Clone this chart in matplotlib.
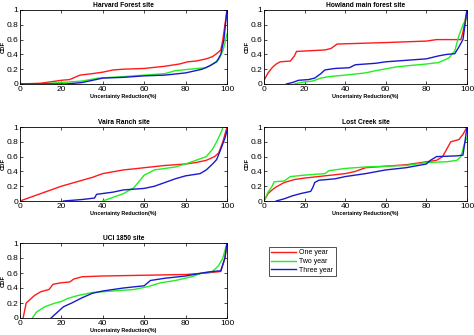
import matplotlib
matplotlib.use("Agg")
import matplotlib.pyplot as plt
from matplotlib.ticker import FuncFormatter

plt.rcParams['font.family'] = ['Liberation Sans', 'DejaVu Sans']

W, H = 474, 335

titles = ["Harvard Forest site", "Howland main forest site", "Vaira Ranch site",
          "Lost Creek site", "UCI 1850 site"]
series_names = ["One year", "Two year", "Three year"]
colors = ["#ff1a1a", "#22ee22", "#1a1acc"]

# Harvard
hv_red_x = [0, 10, 20, 24, 29, 35, 40, 45, 50, 60, 70, 77, 81, 85, 90, 93, 95, 97, 98, 99, 100]
hv_red_y = [0, 0.01, 0.05, 0.06, 0.12, 0.14, 0.16, 0.19, 0.2, 0.21, 0.24, 0.27, 0.3, 0.31, 0.34, 0.37, 0.41, 0.46, 0.6, 0.8, 1.0]
hv_grn_x = [0, 10, 20, 30, 38, 50, 60, 70, 75, 82, 90, 93, 96, 98, 99, 100]
hv_grn_y = [0, 0.0, 0.02, 0.04, 0.08, 0.10, 0.12, 0.14, 0.18, 0.2, 0.22, 0.27, 0.33, 0.45, 0.55, 0.68]
hv_blu_x = [0, 22, 30, 35, 40, 50, 60, 70, 80, 88, 92, 95, 97, 98.5, 100]
hv_blu_y = [0, 0, 0.02, 0.05, 0.08, 0.09, 0.11, 0.12, 0.15, 0.2, 0.25, 0.3, 0.4, 0.6, 1.0]

# Howland
hw_red_x = [0, 2, 4, 6, 8, 13, 15, 16, 30, 33, 36, 60, 80, 85, 97, 98, 100]
hw_red_y = [0.05, 0.15, 0.22, 0.27, 0.30, 0.31, 0.38, 0.44, 0.46, 0.48, 0.54, 0.56, 0.58, 0.60, 0.60, 0.7, 1.0]
hw_grn_x = [15, 18, 24, 28, 32, 40, 50, 55, 65, 72, 80, 86, 91, 94, 96, 98, 100]
hw_grn_y = [0, 0.02, 0.04, 0.08, 0.10, 0.12, 0.15, 0.18, 0.23, 0.25, 0.27, 0.29, 0.35, 0.45, 0.65, 0.8, 0.9]
hw_blu_x = [11, 14, 17, 22, 25, 28, 30, 35, 42, 45, 55, 60, 70, 80, 86, 90, 94, 96, 98, 100]
hw_blu_y = [0, 0.02, 0.05, 0.06, 0.08, 0.14, 0.19, 0.21, 0.22, 0.26, 0.28, 0.30, 0.32, 0.34, 0.38, 0.40, 0.41, 0.5, 0.6, 1.0]

# Vaira
vr_red_x = [0, 5, 10, 15, 20, 25, 30, 35, 40, 50, 57, 60, 70, 80, 85, 90, 94, 96, 98, 100]
vr_red_y = [0, 0.05, 0.1, 0.15, 0.2, 0.24, 0.28, 0.32, 0.37, 0.42, 0.44, 0.45, 0.48, 0.5, 0.52, 0.55, 0.6, 0.65, 0.8, 1.0]
vr_grn_x = [40, 45, 50, 55, 58, 60, 65, 75, 80, 85, 90, 93, 95, 97.5, 98]
vr_grn_y = [0, 0.05, 0.1, 0.18, 0.28, 0.35, 0.42, 0.46, 0.5, 0.55, 0.6, 0.7, 0.8, 0.95, 1.0]
vr_blu_x = [21, 30, 36, 37, 45, 50, 60, 65, 70, 75, 80, 87, 90, 93, 95, 97, 99, 100]
vr_blu_y = [0, 0.02, 0.04, 0.09, 0.12, 0.15, 0.17, 0.2, 0.25, 0.3, 0.34, 0.37, 0.42, 0.5, 0.56, 0.7, 0.85, 0.95]

# Lost Creek
lc_red_x = [0, 2, 4, 6, 10, 15, 20, 30, 40, 45, 50, 60, 70, 80, 85, 88, 90, 92, 96, 98, 100]
lc_red_y = [0, 0.1, 0.15, 0.19, 0.25, 0.29, 0.31, 0.34, 0.37, 0.4, 0.45, 0.47, 0.49, 0.53, 0.55, 0.6, 0.7, 0.8, 0.83, 0.9, 1.0]
lc_grn_x = [0, 2, 4, 5, 10, 13, 20, 30, 32, 40, 50, 60, 70, 75, 80, 90, 95, 97, 99, 100]
lc_grn_y = [0, 0.12, 0.2, 0.26, 0.27, 0.33, 0.35, 0.37, 0.41, 0.44, 0.46, 0.47, 0.48, 0.5, 0.52, 0.53, 0.55, 0.6, 0.8, 0.85]
lc_blu_x = [6, 10, 14, 18, 23, 24, 25, 27, 35, 40, 50, 60, 70, 80, 82, 85, 95, 98, 99, 100]
lc_blu_y = [0, 0.03, 0.07, 0.1, 0.13, 0.18, 0.25, 0.28, 0.3, 0.33, 0.37, 0.42, 0.45, 0.5, 0.55, 0.6, 0.61, 0.62, 0.8, 1.0]

# UCI 1850
uc_red_x = [1.5, 3, 5, 7, 10, 14, 16, 20, 24, 26, 30, 40, 60, 80, 90, 97, 99, 100]
uc_red_y = [0, 0.2, 0.25, 0.3, 0.35, 0.38, 0.45, 0.47, 0.48, 0.52, 0.55, 0.56, 0.57, 0.58, 0.6, 0.62, 0.8, 1.0]
uc_grn_x = [6, 8, 12, 17, 20, 23, 28, 35, 45, 55, 62, 68, 75, 83, 88, 93, 96, 98, 100]
uc_grn_y = [0, 0.08, 0.15, 0.2, 0.22, 0.26, 0.3, 0.34, 0.36, 0.38, 0.42, 0.47, 0.5, 0.55, 0.6, 0.62, 0.7, 0.8, 1.0]
uc_blu_x = [15, 17, 19, 21, 25, 30, 35, 40, 50, 60, 63, 70, 80, 88, 93, 97, 99, 100]
uc_blu_y = [0, 0.05, 0.1, 0.15, 0.2, 0.27, 0.33, 0.36, 0.4, 0.43, 0.5, 0.53, 0.56, 0.6, 0.62, 0.63, 0.8, 1.0]

panels = [
    [(hv_red_x, hv_red_y), (hv_grn_x, hv_grn_y), (hv_blu_x, hv_blu_y)],
    [(hw_red_x, hw_red_y), (hw_grn_x, hw_grn_y), (hw_blu_x, hw_blu_y)],
    [(vr_red_x, vr_red_y), (vr_grn_x, vr_grn_y), (vr_blu_x, vr_blu_y)],
    [(lc_red_x, lc_red_y), (lc_grn_x, lc_grn_y), (lc_blu_x, lc_blu_y)],
    [(uc_red_x, uc_red_y), (uc_grn_x, uc_grn_y), (uc_blu_x, uc_blu_y)],
]

# axes boxes in pixels: left, top, right, bottom
boxes = [(20, 10, 227, 84), (264, 10, 467, 84),
         (20, 127, 227, 201), (264, 127, 467, 201),
         (20, 243, 227, 318)]

fig = plt.figure(figsize=(W / 100, H / 100), dpi=100)

yfmt = FuncFormatter(lambda v, p: "0" if abs(v) < 1e-9 else ("1" if abs(v - 1) < 1e-9 else f"{v:.1f}"))

lines = None
for title, data, (l, t, r, b) in zip(titles, panels, boxes):
    ax = fig.add_axes([l / W, 1 - b / H, (r - l) / W, (b - t) / H])
    lines = []
    for (x, y), c, n in zip(data, colors, series_names):
        ln, = ax.plot(x, y, color=c, lw=1.0, label=n)
        lines.append(ln)
    ax.set_xlim(0, 100)
    ax.set_ylim(0, 1)
    ax.set_xticks([0, 20, 40, 60, 80, 100])
    ax.set_yticks([0, 0.2, 0.4, 0.6, 0.8, 1.0])
    ax.yaxis.set_major_formatter(yfmt)
    ax.tick_params(direction="in", length=2, width=0.5, labelsize=6, pad=1.5,
                   top=True, right=True)
    for s in ax.spines.values():
        s.set_linewidth(0.6)
    ax.set_title(title, fontsize=4.8, fontweight="bold", pad=2)
    ax.set_xlabel("Uncertainty Reduction(%)", fontsize=3.9, fontweight="bold", labelpad=1)
    ax.set_ylabel("CDF", fontsize=4.2, fontweight="bold")
    ax.yaxis.set_label_coords(-14.5 / (r - l), 0.5)

leg = fig.legend(handles=lines, loc="upper left", bbox_to_anchor=(269 / W, 1 - 247 / H),
                 fontsize=5, frameon=True, fancybox=False, edgecolor="black",
                 handlelength=3.6, handletextpad=0.4, borderpad=0.35, labelspacing=0.25,
                 borderaxespad=0)
leg.get_frame().set_linewidth(0.6)

fig.savefig("out.png", dpi=100)
